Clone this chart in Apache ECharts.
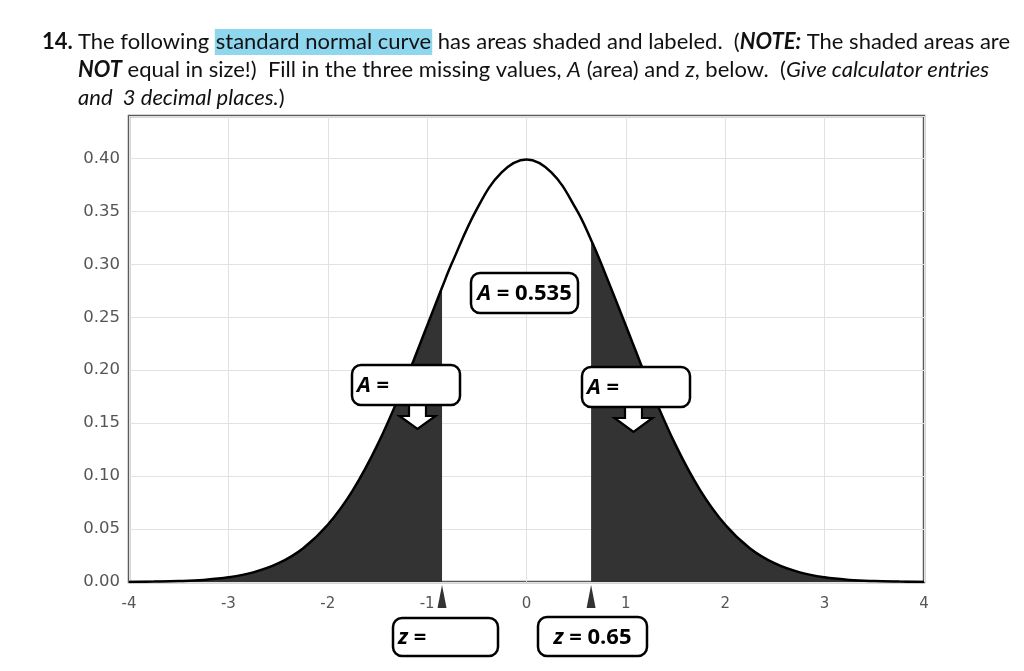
<!DOCTYPE html>
<html><head><meta charset="utf-8">
<script src="https://cdn.jsdelivr.net/npm/echarts@6/dist/echarts.min.js"></script>
<style>html,body{margin:0;padding:0;background:#fff}#c{width:1024px;height:671px}</style>
</head><body><div id="c"></div>
<script>
// ---- data ----
const zValues = [-4,-3.75,-3.5,-3.25,-3,-2.75,-2.5,-2.25,-2,-1.75,-1.5,-1.25,-1,-0.75,-0.5,-0.25,0,0.25,0.5,0.75,1,1.25,1.5,1.75,2,2.25,2.5,2.75,3,3.25,3.5,3.75,4];
const density = [0.0001,0.0004,0.0009,0.0020,0.0044,0.0091,0.0175,0.0317,0.0540,0.0863,0.1295,0.1826,0.2420,0.3011,0.3521,0.3867,0.3989,0.3867,0.3521,0.3011,0.2420,0.1826,0.1295,0.0863,0.0540,0.0317,0.0175,0.0091,0.0044,0.0020,0.0009,0.0004,0.0001];
const leftCut = [-0.85, 0.278];
const rightCut = [0.65, 0.323];
const middleAreaLabel = '0.535';
const rightZLabel = '0.65';
const yTickMax = 0.40;

// ---- build series ----
const curvePts = zValues.map((z, i) => [z, density[i]]).concat([leftCut, rightCut]).sort((a, b) => a[0] - b[0]);
const leftPts = curvePts.filter(p => p[0] <= leftCut[0]);
const rightPts = curvePts.filter(p => p[0] >= rightCut[0]);

const chart = echarts.init(document.getElementById('c'), null, {renderer: 'canvas'});
const txtFont = 'Lato';
const boxFont = 'Open Sans';
const boxRich = {
  i: {fontFamily: boxFont, fontWeight: 'bold', fontStyle: 'italic', fontSize: 22, fill: '#000'},
  n: {fontFamily: boxFont, fontWeight: 'bold', fontSize: 22, fill: '#000'}
};

function boxRect(x, y, w, h) {
  return {type: 'rect', z: 100, z2: 0, shape: {x: x, y: y, width: w, height: h, r: 9},
    style: {fill: '#fff', stroke: '#000', lineWidth: 2.5}};
}
function boxText(x, y, w, h, rich, align) {
  return {type: 'text', z: 101, z2: 10, style: {
    text: rich, x: align === 'center' ? x + w / 2 : x + 5, y: y + h / 2 + 1,
    align: align === 'center' ? 'center' : 'left', verticalAlign: 'middle', rich: boxRich}};
}
function arrow(cx, top, headY, tip, shaftHalf, headHalf) {
  return {type: 'polygon', z: 90,
    shape: {points: [[cx - shaftHalf, top], [cx + shaftHalf, top], [cx + shaftHalf, headY], [cx + headHalf, headY], [cx, tip], [cx - headHalf, headY], [cx - shaftHalf, headY]]},
    style: {fill: '#fff', stroke: '#000', lineWidth: 2.2}};
}

const TS = 22;
const titleRich = {
  n: {fontFamily: txtFont, fontSize: TS, fill: '#111'},
  b: {fontFamily: txtFont, fontSize: TS, fontWeight: 'bold', fill: '#111'},
  bi: {fontFamily: txtFont, fontSize: TS, fontWeight: 'bold', fontStyle: 'italic', fill: '#111'},
  i: {fontFamily: txtFont, fontSize: TS, fontStyle: 'italic', fill: '#111'},
  hl: {fontFamily: txtFont, fontSize: TS, fill: '#111', backgroundColor: '#8fd7ef', padding: [2, 1, 2, 1]}
};

chart.setOption({
  animation: false,
  grid: {left: 129, right: 100, top: 116, bottom: 89, show: true, borderColor: '#5a5a5a', borderWidth: 2.5, backgroundColor: 'transparent'},
  xAxis: {
    type: 'value', min: -4, max: 4, interval: 1,
    axisLine: {show: false}, axisTick: {show: false},
    splitLine: {show: true, lineStyle: {color: '#e2e2e2', width: 1}},
    axisLabel: {color: '#555', fontSize: 15, fontFamily: 'DejaVu Sans', margin: 15}
  },
  yAxis: {
    type: 'value', min: 0, max: 0.44, interval: 0.05,
    axisLine: {show: false}, axisTick: {show: false},
    splitLine: {show: true, lineStyle: {color: '#e2e2e2', width: 1}},
    axisLabel: {color: '#555', fontSize: 16.5, fontFamily: 'DejaVu Sans', margin: 9, showMaxLabel: false,
      formatter: v => v <= yTickMax + 1e-9 ? v.toFixed(2) : ''}
  },
  series: [
    {type: 'line', data: leftPts, smooth: 0.4, symbol: 'none', lineStyle: {width: 0}, areaStyle: {color: '#333', opacity: 1}, z: 2},
    {type: 'line', data: rightPts, smooth: 0.4, symbol: 'none', lineStyle: {width: 0}, areaStyle: {color: '#333', opacity: 1}, z: 2},
    {type: 'line', data: curvePts, smooth: 0.4, symbol: 'none', lineStyle: {width: 2.5, color: '#000'}, z: 3}
  ]
});

const pl = chart.convertToPixel({gridIndex: 0}, [leftCut[0], 0]);
const pr = chart.convertToPixel({gridIndex: 0}, [rightCut[0], 0]);

function pointer(p) {
  return {type: 'polygon', z: 90, shape: {points: [[p[0], p[1] + 3], [p[0] - 4.5, p[1] + 26], [p[0] + 4.5, p[1] + 26]]},
    style: {fill: '#333'}};
}

chart.setOption({
  graphic: [
    {type: 'text', style: {text: '{b|14.}', x: 42, y: 42, verticalAlign: 'middle', rich: titleRich}},
    {type: 'text', style: {text: '{n|The following }{hl|standard normal curve}{n| has areas shaded and labeled.  (}{bi|NOTE:}{n| The shaded areas are}', x: 78, y: 42, verticalAlign: 'middle', rich: titleRich}},
    {type: 'text', style: {text: '{bi|NOT}{n| equal in size!)  Fill in the three missing values, }{i|A}{n| (area) and }{i|z}{n|, below.  (}{i|Give calculator entries}', x: 78, y: 70, verticalAlign: 'middle', rich: titleRich}},
    {type: 'text', style: {text: '{i|and  3 decimal places.}{n|)}', x: 78, y: 98, verticalAlign: 'middle', rich: titleRich}},
    arrow(417.5, 404, 416, 429, 8.5, 18),
    arrow(633.5, 406, 418, 432, 8.5, 19),
    boxRect(471, 273, 107, 40), boxText(471, 273, 107, 40, '{i|A}{n| = ' + middleAreaLabel + '}', 'center'),
    boxRect(352, 365, 108, 40), boxText(352, 365, 108, 40, '{i|A}{n| =}', 'left'),
    boxRect(582, 367, 108, 40), boxText(582, 367, 108, 40, '{i|A}{n| =}', 'left'),
    boxRect(393, 618, 105, 38), boxText(393, 618, 105, 38, '{i|z}{n| =}', 'left'),
    boxRect(538, 617, 109, 39), boxText(538, 617, 109, 39, '{i|z}{n| = ' + rightZLabel + '}', 'center'),
    pointer(pl),
    pointer(pr)
  ]
});
</script></body></html>
